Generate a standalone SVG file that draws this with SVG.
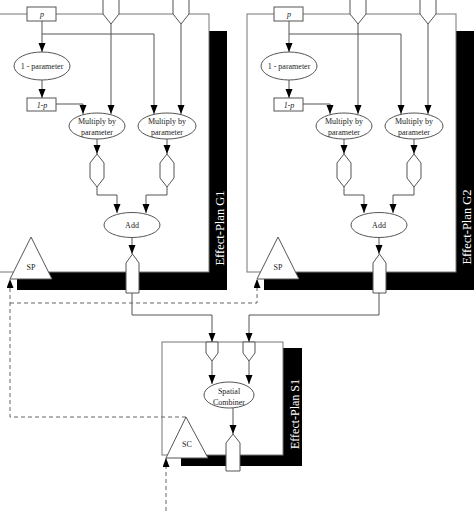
<svg xmlns="http://www.w3.org/2000/svg" width="474" height="511" viewBox="0 0 474 511">
<style>
.ln{fill:none;stroke:#555;stroke-width:1}
.ar{fill:none;stroke:#555;stroke-width:1;marker-end:url(#ah)}
.dar{fill:none;stroke:#666;stroke-width:1;stroke-dasharray:4,3;marker-end:url(#ah)}
.nd{fill:#fff;stroke:#555;stroke-width:1}
.pn{fill:#fff;stroke:#777;stroke-width:1}
.sh{fill:#000}
.t{font-family:"Liberation Serif","Times New Roman",serif;font-size:8px;fill:#222;text-anchor:middle}
.ti{font-family:"Liberation Serif","Times New Roman",serif;font-size:8px;font-style:italic;fill:#222;text-anchor:middle}
.lb{font-family:"Liberation Serif","Times New Roman",serif;font-size:12.5px;fill:#fff;text-anchor:middle}
</style>
<defs>
<marker id="ah" markerUnits="userSpaceOnUse" markerWidth="10" markerHeight="8" refX="9" refY="3.5" orient="auto" viewBox="0 0 10 8">
<path d="M0,0 L9,3.5 L0,7 z" fill="#000"/>
</marker>
</defs>

<g id="plan-G1">
<rect class="sh" x="17" y="31" width="210" height="259"/>
<rect class="pn" x="-2" y="14" width="211" height="258"/>
<text class="lb" transform="translate(224,228) rotate(-90)">Effect-Plan G1</text>
</g>
<g id="plan-G2">
<rect class="sh" x="264" y="31" width="212" height="259"/>
<rect class="pn" x="247" y="14" width="209" height="258"/>
<text class="lb" transform="translate(471,227) rotate(-90)">Effect-Plan G2</text>
</g>
<g id="plan-S1">
<rect class="sh" x="181" y="348" width="121" height="118"/>
<rect class="pn" x="162" y="342" width="121" height="113"/>
<text class="lb" style="font-size:12px" transform="translate(299,414) rotate(-90)">Effect-Plan S1</text>
</g>

<g id="connectors">
<g id="conn-G1">
<path class="ar" d="M42,21 V52"/>
<path class="ar" d="M42,34 H154 V114"/>
<path class="ar" d="M42,80 V98"/>
<path class="ar" d="M56,104 H83 V114"/>
<path class="ar" d="M111,24 V114"/>
<path class="ar" d="M181,24 V114"/>
<path class="ar" d="M97,139 V154"/>
<path class="ar" d="M167,139 V154"/>
<path class="ar" d="M97,187 V195 H117 V213"/>
<path class="ar" d="M167,187 V195 H146 V213"/>
<path class="ar" d="M132,237.5 V254"/>
</g>
<g id="conn-G2" transform="translate(247,0)">
<path class="ar" d="M42,21 V52"/>
<path class="ar" d="M42,34 H154 V114"/>
<path class="ar" d="M42,80 V98"/>
<path class="ar" d="M56,104 H83 V114"/>
<path class="ar" d="M111,24 V114"/>
<path class="ar" d="M181,24 V114"/>
<path class="ar" d="M97,139 V154"/>
<path class="ar" d="M167,139 V154"/>
<path class="ar" d="M97,187 V195 H117 V213"/>
<path class="ar" d="M167,187 V195 H146 V213"/>
<path class="ar" d="M132,237.5 V254"/>
</g>
<path class="ar" d="M132,293 V315 H212 V342"/>
<path class="ar" d="M379,293 V315 H249 V342"/>
<path class="ar" d="M212,361 V384"/>
<path class="ar" d="M249,361 V384"/>
<path class="ar" d="M233,408 V434"/>
<path class="dar" d="M186,417 H10 V279"/>
<path class="dar" d="M10,303 H257 V279"/>
<path class="dar" d="M166,511 V458"/>
</g>

<g id="G1-p"><rect class="nd" x="27" y="7" width="29" height="14"/><text class="ti" x="42" y="17">p</text></g>
<g id="G1-in1"><path class="nd" d="M103,-1 V14 L111,24 L119,14 V-1"/></g>
<g id="G1-in2"><path class="nd" d="M173,-1 V14 L181,24 L189,14 V-1"/></g>
<g id="G1-one-minus"><ellipse class="nd" cx="42" cy="66" rx="28" ry="14"/><text class="t" x="42" y="69">1 - parameter</text></g>
<g id="G1-1p"><rect class="nd" x="27" y="98" width="29" height="13"/><text class="ti" x="42" y="107.5">1-p</text></g>
<g id="G1-mul1"><ellipse class="nd" cx="97" cy="126" rx="28" ry="13"/><text class="t" x="97" y="124">Multiply by</text><text class="t" x="97" y="135">parameter</text></g>
<g id="G1-mul2"><ellipse class="nd" cx="167" cy="126" rx="29" ry="13"/><text class="t" x="167" y="124">Multiply by</text><text class="t" x="167" y="135">parameter</text></g>
<g id="G1-hex1"><polygon class="nd" points="97,154 104,163 104,178 97,187 90,178 90,163"/></g>
<g id="G1-hex2"><polygon class="nd" points="167,154 174,163 174,178 167,187 160,178 160,163"/></g>
<g id="G1-add"><ellipse class="nd" cx="132" cy="225" rx="28" ry="12.5"/><text class="t" x="132" y="228">Add</text></g>
<g id="G1-out"><polygon class="nd" points="126,263 132.5,254 139,263 139,293 126,293"/></g>
<g id="G1-SP"><polygon class="nd" points="31,237 52,279 10,279"/><text class="t" x="31" y="270">SP</text></g>

<g id="G2-p" transform="translate(247,0)"><rect class="nd" x="27" y="7" width="29" height="14"/><text class="ti" x="42" y="17">p</text></g>
<g id="G2-in1" transform="translate(247,0)"><path class="nd" d="M103,-1 V14 L111,24 L119,14 V-1"/></g>
<g id="G2-in2" transform="translate(247,0)"><path class="nd" d="M173,-1 V14 L181,24 L189,14 V-1"/></g>
<g id="G2-one-minus" transform="translate(247,0)"><ellipse class="nd" cx="42" cy="66" rx="28" ry="14"/><text class="t" x="42" y="69">1 - parameter</text></g>
<g id="G2-1p" transform="translate(247,0)"><rect class="nd" x="27" y="98" width="29" height="13"/><text class="ti" x="42" y="107.5">1-p</text></g>
<g id="G2-mul1" transform="translate(247,0)"><ellipse class="nd" cx="97" cy="126" rx="28" ry="13"/><text class="t" x="97" y="124">Multiply by</text><text class="t" x="97" y="135">parameter</text></g>
<g id="G2-mul2" transform="translate(247,0)"><ellipse class="nd" cx="167" cy="126" rx="29" ry="13"/><text class="t" x="167" y="124">Multiply by</text><text class="t" x="167" y="135">parameter</text></g>
<g id="G2-hex1" transform="translate(247,0)"><polygon class="nd" points="97,154 104,163 104,178 97,187 90,178 90,163"/></g>
<g id="G2-hex2" transform="translate(247,0)"><polygon class="nd" points="167,154 174,163 174,178 167,187 160,178 160,163"/></g>
<g id="G2-add" transform="translate(247,0)"><ellipse class="nd" cx="132" cy="225" rx="28" ry="12.5"/><text class="t" x="132" y="228">Add</text></g>
<g id="G2-out" transform="translate(247,0)"><polygon class="nd" points="126,263 132.5,254 139,263 139,293 126,293"/></g>
<g id="G2-SP" transform="translate(247,0)"><polygon class="nd" points="31,237 52,279 10,279"/><text class="t" x="31" y="270">SP</text></g>

<g id="S1-in1"><polygon class="nd" points="206,342 218,342 218,353 212,361 206,353"/></g>
<g id="S1-in2"><polygon class="nd" points="243,342 255,342 255,353 249,361 243,353"/></g>
<g id="S1-spatial"><ellipse class="nd" cx="229" cy="395" rx="25" ry="13"/><text class="t" x="229" y="393.5">Spatial</text><text class="t" x="229" y="404.5">Combiner</text></g>
<g id="S1-out"><polygon class="nd" points="226,443 233,434 240,443 240,471 226,471"/></g>
<g id="S1-SC"><polygon class="nd" points="186,417 208,458 166,458"/><text class="t" x="187" y="447">SC</text></g>
</svg>
